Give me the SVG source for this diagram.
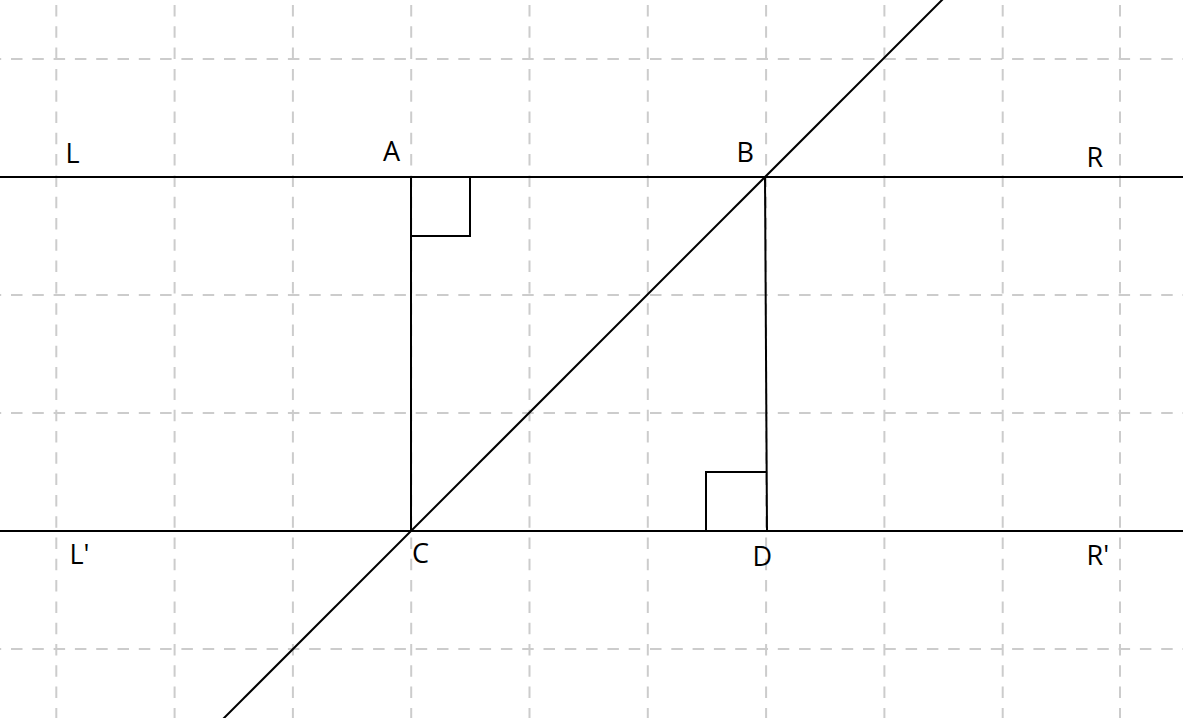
<svg xmlns="http://www.w3.org/2000/svg" width="1183" height="718" viewBox="0 0 1183 718">
  <style>
    .grid { stroke: #cccccc; stroke-width: 2; stroke-dasharray: 11.5 9.8; fill: none; }
    .solid { stroke: #000000; stroke-width: 2; fill: none; }
    .lbl { font-family: "Open Sans", "DejaVu Sans", sans-serif; font-size: 27px; fill: #000000; }
  </style>
  <rect x="0" y="0" width="1183" height="718" fill="#ffffff"/>
  <g id="grid">
    <line class="grid" x1="56.3" y1="-16.3" x2="56.3" y2="730"/>
    <line class="grid" x1="174.6" y1="-16.3" x2="174.6" y2="730"/>
    <line class="grid" x1="292.9" y1="-16.3" x2="292.9" y2="730"/>
    <line class="grid" x1="411.2" y1="-16.3" x2="411.2" y2="730"/>
    <line class="grid" x1="529.5" y1="-16.3" x2="529.5" y2="730"/>
    <line class="grid" x1="647.8" y1="-16.3" x2="647.8" y2="730"/>
    <line class="grid" x1="766.1" y1="-16.3" x2="766.1" y2="730"/>
    <line class="grid" x1="884.4" y1="-16.3" x2="884.4" y2="730"/>
    <line class="grid" x1="1002.7" y1="-16.3" x2="1002.7" y2="730"/>
    <line class="grid" x1="1120" y1="-16.3" x2="1120" y2="730"/>
    <line class="grid" x1="-10.3" y1="59" x2="1195" y2="59"/>
    <line class="grid" x1="-10.3" y1="177" x2="1195" y2="177"/>
    <line class="grid" x1="-10.3" y1="295" x2="1195" y2="295"/>
    <line class="grid" x1="-10.3" y1="413" x2="1195" y2="413"/>
    <line class="grid" x1="-10.3" y1="531" x2="1195" y2="531"/>
    <line class="grid" x1="-10.3" y1="649" x2="1195" y2="649"/>
  </g>
  <g id="connectors">
    <line class="solid" x1="0" y1="177" x2="1183" y2="177"/>
    <line class="solid" x1="0" y1="531" x2="1183" y2="531"/>
    <line class="solid" x1="220" y1="722" x2="946" y2="-4"/>
    <line class="solid" x1="411" y1="177" x2="411" y2="531"/>
    <line class="solid" x1="765" y1="177" x2="767" y2="531"/>
    <polyline class="solid" points="470,177 470,236 411,236"/>
    <polyline class="solid" points="706,531 706,472 766.5,472"/>
  </g>
  <g id="L"><text class="lbl" x="65.5" y="163">L</text></g>
  <g id="A"><text class="lbl" x="383" y="161">A</text></g>
  <g id="B"><text class="lbl" x="736.5" y="162">B</text></g>
  <g id="R"><text class="lbl" x="1086.5" y="167">R</text></g>
  <g id="L_prime"><text class="lbl" x="69.5" y="564">L'</text></g>
  <g id="C"><text class="lbl" x="412" y="563">C</text></g>
  <g id="D"><text class="lbl" x="752.5" y="566">D</text></g>
  <g id="R_prime"><text class="lbl" x="1086.5" y="565">R'</text></g>
</svg>
